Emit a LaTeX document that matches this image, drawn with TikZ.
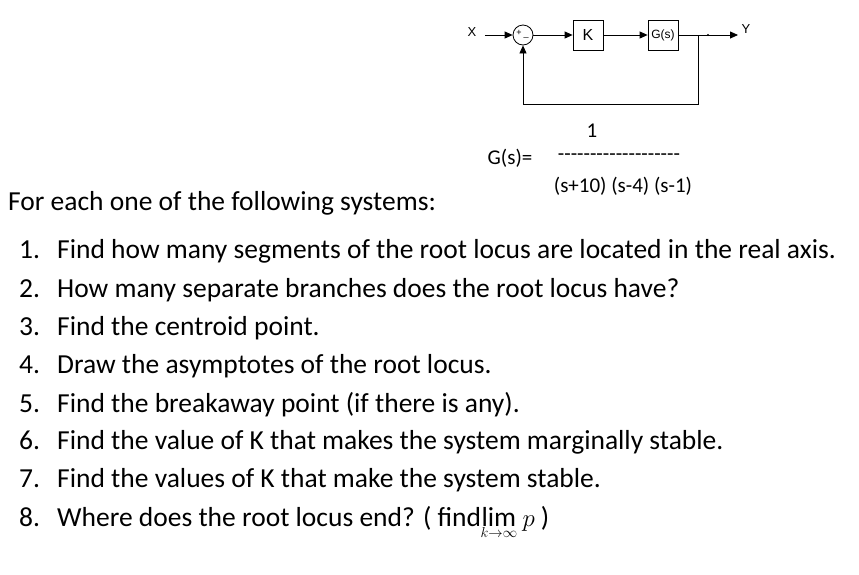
\documentclass[tikz,border=0pt]{standalone}
\usepackage{fontspec}
\setmainfont{Carlito}
\newfontfamily\arialf{Liberation Sans}
\usetikzlibrary{arrows.meta}
\begin{document}
\begin{tikzpicture}[x=1pt,y=-1pt,
  blk/.style={draw,thick,minimum width=30pt,minimum height=30pt,inner sep=0pt,font=\arialf\fontsize{16}{16}\selectfont},
  sig/.style={thick,-{Triangle[length=8pt,width=7pt]}},
  lbl/.style={font=\arialf\fontsize{13}{13}\selectfont},
  frm/.style={font=\fontsize{21}{21}\selectfont},
  item/.style={anchor=base west,font=\fontsize{27.5}{32}\selectfont,inner sep=0pt}]
\useasboundingbox (0,0) rectangle (859,574);
\node[lbl] (x) at (472,32) {X};
\node[draw,thick,circle,minimum size=20pt,inner sep=0pt] (sum) at (523,35) {};
\node[font=\arialf\fontsize{9}{9}\selectfont] at (519,33) {+};
\node[font=\arialf\fontsize{9}{9}\selectfont] at (526,37) {\_};
\node[blk] (k) at (588,35) {K};
\node[blk,font=\arialf\fontsize{12}{12}\selectfont] (g) at (663,35) {G(s)};
\coordinate (br) at (698,35);
\coordinate (dt) at (708,35);
\coordinate (out) at (738,35);
\node[lbl] (y) at (746,29) {Y};
\coordinate (bl) at (698,104);
\coordinate (bs) at (523,104);
\draw[sig] (x.east)++(5,3) -- (sum.west);
\draw[sig] (sum) ++(10,0) -- (k.west);
\draw[sig] (k.east) -- (g.west);
\draw[sig] (g.east) -- (out);
\fill (dt) circle (1.2pt);
\draw[sig] (br) -- (bl) -- (bs) -- (sum.south);
\node[frm] (one) at (592,131) {1};
\node[frm] (gs) at (510,158) {G(s)=};
\node[frm] (dash) at (619,157) {-{}-{}-{}-{}-{}-{}-{}-{}-{}-{}-{}-{}-{}-{}-{}-{}-{}-{}-};
\node[frm] (den) at (623,186) {(s+10) (s-4) (s-1)};
\node[item] (h) at (8,210) {For each one of the following systems:};
\foreach \n/\yy/\t in {
 1/258/{Find how many segments of the root locus are located in the real axis.},
 2/297/{How many separate branches does the root locus have?},
 3/335/{Find the centroid point.},
 4/373/{Draw the asymptotes of the root locus.},
 5/412/{Find the breakaway point (if there is any).},
 6/449/{Find the value of K that makes the system marginally stable.},
 7/487/{Find the values of K that make the system stable.}}
{\node[item] (n\n) at (19,\yy) {\n.};
 \node[item] (t\n) at (57,\yy) {\t};}
\node[item] (n8) at (19,526) {8.};
\node[item] (t8) at (57,526) {Where does the root locus end? ( find\ };
\node[anchor=base west,inner sep=0pt,font=\fontsize{27.5}{32}\selectfont] (lim) at (t8.base east) {$\mathrm{lim}$};
\node[anchor=north,inner sep=0pt,font=\fontsize{14}{14}\selectfont] (sub) at ([yshift=-1pt]lim.south) {$k{\to}\infty$};
\node[anchor=base west,inner sep=0pt,font=\fontsize{27.5}{32}\selectfont] (pp) at ([xshift=6pt]lim.base east) {$p$ )};
\end{tikzpicture}
\end{document}
